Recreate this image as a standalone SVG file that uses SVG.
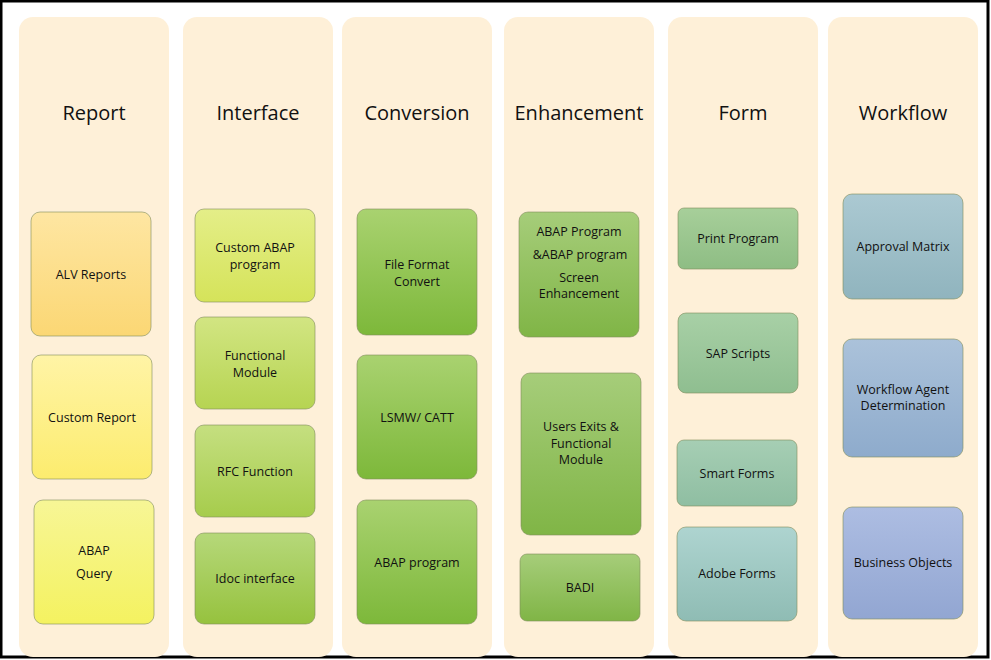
<svg xmlns="http://www.w3.org/2000/svg" width="991" height="660" viewBox="0 0 991 660">
<style>
.col{fill:#fef0d8}
.n{stroke:#7f8c5c;stroke-width:1;stroke-opacity:0.6}
.h{font-family:"Open Sans","DejaVu Sans",sans-serif;font-size:20px;fill:#111;text-anchor:middle}
.t{font-family:"Open Sans","DejaVu Sans",sans-serif;font-size:12.5px;fill:#111;text-anchor:middle}
</style>
<defs>
<linearGradient id="g1" x1="0" y1="0" x2="0" y2="1"><stop offset="0" stop-color="#fee6a2"/><stop offset="1" stop-color="#fbd774"/></linearGradient>
<linearGradient id="g2" x1="0" y1="0" x2="0" y2="1"><stop offset="0" stop-color="#fff4a6"/><stop offset="1" stop-color="#fcec6e"/></linearGradient>
<linearGradient id="g3" x1="0" y1="0" x2="0" y2="1"><stop offset="0" stop-color="#f7f696"/><stop offset="1" stop-color="#f4f260"/></linearGradient>
<linearGradient id="i1" x1="0" y1="0" x2="0" y2="1"><stop offset="0" stop-color="#e4ee88"/><stop offset="1" stop-color="#d5e35a"/></linearGradient>
<linearGradient id="i2" x1="0" y1="0" x2="0" y2="1"><stop offset="0" stop-color="#d2e582"/><stop offset="1" stop-color="#b6d452"/></linearGradient>
<linearGradient id="i3" x1="0" y1="0" x2="0" y2="1"><stop offset="0" stop-color="#c5df80"/><stop offset="1" stop-color="#a6cc4c"/></linearGradient>
<linearGradient id="i4" x1="0" y1="0" x2="0" y2="1"><stop offset="0" stop-color="#b6d87a"/><stop offset="1" stop-color="#96c23e"/></linearGradient>
<linearGradient id="c" x1="0" y1="0" x2="0" y2="1"><stop offset="0" stop-color="#a9d270"/><stop offset="1" stop-color="#7db83a"/></linearGradient>
<linearGradient id="e" x1="0" y1="0" x2="0" y2="1"><stop offset="0" stop-color="#a6cd7a"/><stop offset="1" stop-color="#80b546"/></linearGradient>
<linearGradient id="f1" x1="0" y1="0" x2="0" y2="1"><stop offset="0" stop-color="#a7cf9a"/><stop offset="1" stop-color="#8ebd84"/></linearGradient>
<linearGradient id="f2" x1="0" y1="0" x2="0" y2="1"><stop offset="0" stop-color="#a8d0a6"/><stop offset="1" stop-color="#8fbe90"/></linearGradient>
<linearGradient id="f3" x1="0" y1="0" x2="0" y2="1"><stop offset="0" stop-color="#a6ceb4"/><stop offset="1" stop-color="#8fbea2"/></linearGradient>
<linearGradient id="f4" x1="0" y1="0" x2="0" y2="1"><stop offset="0" stop-color="#aed4d0"/><stop offset="1" stop-color="#8fbcb4"/></linearGradient>
<linearGradient id="w1" x1="0" y1="0" x2="0" y2="1"><stop offset="0" stop-color="#abc9d2"/><stop offset="1" stop-color="#90b4be"/></linearGradient>
<linearGradient id="w2" x1="0" y1="0" x2="0" y2="1"><stop offset="0" stop-color="#abc2da"/><stop offset="1" stop-color="#8eabcc"/></linearGradient>
<linearGradient id="w3" x1="0" y1="0" x2="0" y2="1"><stop offset="0" stop-color="#adbde2"/><stop offset="1" stop-color="#92a6d2"/></linearGradient>
</defs>
<rect x="0" y="0" width="991" height="660" fill="#ffffff"/>
<rect x="1" y="1" width="987" height="656" fill="none" stroke="#000" stroke-width="3"/>
<g id="columns">
<rect class="col" x="19" y="17" width="150" height="640" rx="14"/>
<rect class="col" x="183" y="17" width="150" height="640" rx="14"/>
<rect class="col" x="342" y="17" width="150" height="640" rx="14"/>
<rect class="col" x="504" y="17" width="150" height="640" rx="14"/>
<rect class="col" x="668" y="17" width="150" height="640" rx="14"/>
<rect class="col" x="828" y="17" width="150" height="640" rx="14"/>
<text class="h" x="94" y="120">Report</text>
<text class="h" x="258" y="120">Interface</text>
<text class="h" x="417" y="120">Conversion</text>
<text class="h" x="579" y="120">Enhancement</text>
<text class="h" x="743" y="120">Form</text>
<text class="h" x="903" y="120">Workflow</text>
</g>
<g id="connectors"></g>
<g id="alv"><rect class="n" x="31" y="212" width="120" height="124" rx="9" fill="url(#g1)"/><text class="t" x="91" y="279">ALV Reports</text></g>
<g id="customreport"><rect class="n" x="32" y="355" width="120" height="124" rx="9" fill="url(#g2)"/><text class="t" x="92" y="422">Custom Report</text></g>
<g id="abapquery"><rect class="n" x="34" y="500" width="120" height="124" rx="9" fill="url(#g3)"/><text class="t" x="94" y="555">ABAP</text><text class="t" x="94" y="578">Query</text></g>
<g id="customabap"><rect class="n" x="195" y="209" width="120" height="93" rx="9" fill="url(#i1)"/><text class="t" x="255" y="252">Custom ABAP</text><text class="t" x="255" y="269">program</text></g>
<g id="funcmod"><rect class="n" x="195" y="317" width="120" height="92" rx="9" fill="url(#i2)"/><text class="t" x="255" y="360">Functional</text><text class="t" x="255" y="377">Module</text></g>
<g id="rfc"><rect class="n" x="195" y="425" width="120" height="92" rx="9" fill="url(#i3)"/><text class="t" x="255" y="476">RFC Function</text></g>
<g id="idoc"><rect class="n" x="195" y="533" width="120" height="91" rx="9" fill="url(#i4)"/><text class="t" x="255" y="583">Idoc interface</text></g>
<g id="fileformat"><rect class="n" x="357" y="209" width="120" height="126" rx="9" fill="url(#c)"/><text class="t" x="417" y="269">File Format</text><text class="t" x="417" y="286">Convert</text></g>
<g id="lsmw"><rect class="n" x="357" y="355" width="120" height="124" rx="9" fill="url(#c)"/><text class="t" x="417" y="422">LSMW/ CATT</text></g>
<g id="abapprog"><rect class="n" x="357" y="500" width="120" height="124" rx="9" fill="url(#c)"/><text class="t" x="417" y="567">ABAP program</text></g>
<g id="screenenh"><rect class="n" x="519" y="212" width="120" height="125" rx="9" fill="url(#e)"/><text class="t" x="579" y="236">ABAP Program</text><text class="t" x="580" y="259">&amp;ABAP program</text><text class="t" x="579" y="282">Screen</text><text class="t" x="579" y="298">Enhancement</text></g>
<g id="userexits"><rect class="n" x="521" y="373" width="120" height="162" rx="9" fill="url(#e)"/><text class="t" x="581" y="431">Users Exits &amp;</text><text class="t" x="581" y="448">Functional</text><text class="t" x="581" y="464">Module</text></g>
<g id="badi"><rect class="n" x="520" y="554" width="120" height="67" rx="7" fill="url(#e)"/><text class="t" x="580" y="592">BADI</text></g>
<g id="print"><rect class="n" x="678" y="208" width="120" height="61" rx="6" fill="url(#f1)"/><text class="t" x="738" y="243">Print Program</text></g>
<g id="sapscripts"><rect class="n" x="678" y="313" width="120" height="80" rx="8" fill="url(#f2)"/><text class="t" x="738" y="358">SAP Scripts</text></g>
<g id="smartforms"><rect class="n" x="677" y="440" width="120" height="66" rx="7" fill="url(#f3)"/><text class="t" x="737" y="478">Smart Forms</text></g>
<g id="adobe"><rect class="n" x="677" y="527" width="120" height="94" rx="9" fill="url(#f4)"/><text class="t" x="737" y="578">Adobe Forms</text></g>
<g id="approval"><rect class="n" x="843" y="194" width="120" height="105" rx="9" fill="url(#w1)"/><text class="t" x="903" y="251">Approval Matrix</text></g>
<g id="agent"><rect class="n" x="843" y="339" width="120" height="118" rx="9" fill="url(#w2)"/><text class="t" x="903" y="394">Workflow Agent</text><text class="t" x="903" y="410">Determination</text></g>
<g id="bo"><rect class="n" x="843" y="507" width="120" height="112" rx="9" fill="url(#w3)"/><text class="t" x="903" y="567">Business Objects</text></g>
</svg>
